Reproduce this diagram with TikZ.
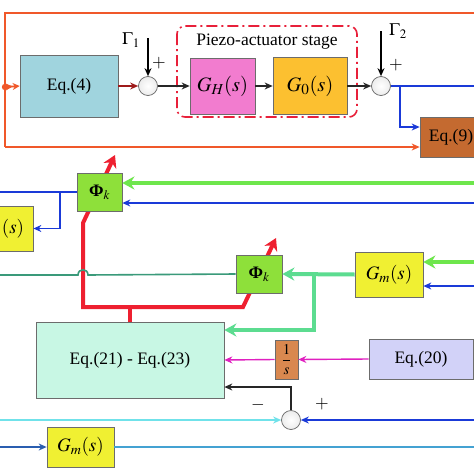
\documentclass[tikz,border=0pt]{standalone}
\usepackage{mathptmx}
\usepackage[no-math]{fontspec}
\setmainfont{Liberation Serif}
\usetikzlibrary{arrows.meta}
\pgfdeclarelayer{bg}
\pgfsetlayers{bg,main}
\definecolor{frameor}{HTML}{F0582A}
\definecolor{dkred}{HTML}{9E1A1A}
\definecolor{bl}{HTML}{1A3AD8}
\definecolor{grn}{HTML}{6EE64C}
\definecolor{mint}{HTML}{5CDC90}
\definecolor{tealc}{HTML}{3A9A7A}
\definecolor{mag}{HTML}{E020C0}
\definecolor{cyn}{HTML}{70E2EA}
\definecolor{bbl}{HTML}{2A5EB0}
\definecolor{lbl}{HTML}{44A2D2}
\definecolor{rd}{HTML}{EE2030}
\definecolor{pz}{HTML}{E8203A}
\definecolor{eqfour}{HTML}{A0D4DE}
\definecolor{ghc}{HTML}{F27CCF}
\definecolor{gzc}{HTML}{FCC030}
\definecolor{eqnine}{HTML}{C46A30}
\definecolor{phic}{HTML}{8EE03A}
\definecolor{gmc}{HTML}{F0F032}
\definecolor{eqtw}{HTML}{C8F7E4}
\definecolor{invs}{HTML}{D9884F}
\definecolor{eqtwz}{HTML}{D2D2F8}
\begin{document}
\begin{tikzpicture}[x=1pt,y=-1pt,
  font=\fontsize{17.5}{20}\selectfont,
  blk/.style={draw=gray!85!black, line width=0.7pt, inner sep=0pt},
  bigm/.style={font=\fontsize{20.5}{22}\selectfont},
  midm/.style={font=\fontsize{19}{22}\selectfont},
  sumnode/.style={circle, draw=gray!80!black, inner color=white, outer color=gray!15, line width=0.7pt, minimum size=19pt, inner sep=0pt},
  tip/.style={-{Stealth[length=8pt,width=7pt]}},
  thinl/.style={line width=1.4pt},
  fat/.style={line width=4pt},
]
\useasboundingbox (0,0) rectangle (474,474);
\clip (0,0) rectangle (474,474);

% ---------- nodes ----------
\node[blk, fill=eqfour, minimum width=98pt, minimum height=62pt] (eq4) at (69,86) {Eq.(4)};
\node[sumnode] (s1) at (148,86) {};
\node[blk, bigm, fill=ghc, minimum width=65pt, minimum height=56pt] (gh) at (222.5,86) {$G_H(s)$};
\node[blk, bigm, fill=gzc, minimum width=74pt, minimum height=57pt] (g0) at (310,86) {$G_0(s)$};
\node[sumnode] (s2) at (381,86) {};
\node[blk, fill=eqnine, minimum width=69pt, minimum height=40pt] (eq9) at (454.5,137) {};
\node (eq9t) at (451,137) {Eq.(9)};
\node (gam1) at (131,40) {$\Gamma_1$};
\node (gam2) at (398,31) {$\Gamma_2$};
\node (p1) at (159,63) {$+$};
\node (p2) at (396,65) {$+$};
\coordinate (g1) at (148,38);
\coordinate (g2) at (381,31);
\node (pzl) at (267,42) {Piezo-actuator stage};
\draw[pz, line width=1.6pt, dash pattern=on 11pt off 4pt on 2pt off 4pt, rounded corners=8pt] (177,26) rectangle (357,117);

\node[blk, fill=phic, minimum width=45pt, minimum height=38pt] (phi1) at (99.5,192) {{\bfseries Φ}$_k$};
\node[blk, fill=gmc, minimum width=66pt, minimum height=45pt] (gml) at (0,228.5) {};
\node[midm] (gmlt) at (13,228.5) {$(s)$};
\node[blk, fill=phic, minimum width=46pt, minimum height=38pt] (phi2) at (259,274) {{\bfseries Φ}$_k$};
\node[blk, midm, fill=gmc, minimum width=68pt, minimum height=45pt] (gm) at (389,274.5) {$G_m(s)$};
\node[blk, fill=eqtw, minimum width=188pt, minimum height=76pt] (eq21) at (130,360) {Eq.(21) - Eq.(23)};
\node[blk, fill=invs, minimum width=23pt, minimum height=39pt] (inv) at (286.5,359.5) {\fontsize{15}{15}\selectfont$\displaystyle\frac{1}{s}$};
\node[blk, fill=eqtwz, minimum width=104pt, minimum height=40pt] (eq20) at (421,359) {Eq.(20)};
\node[sumnode] (s3) at (291,420) {};
\node (m3) at (258,405) {$-$};
\node (p3) at (322,404) {$+$};
\node[blk, midm, fill=gmc, minimum width=67pt, minimum height=40pt] (gm3) at (80.5,447) {$G_m(s)$};

% ---------- top frame ----------
\coordinate (ft) at (5,13);
\coordinate (fr) at (474,13);
\coordinate (fb) at (5,147);
\coordinate (fd) at (5,87);
\draw[frameor, line width=1.8pt] (fr) -- (ft) -- (fb);
\draw[frameor, line width=1.8pt, tip] (fb) -- (eq9.west |- fb);
\draw[frameor, line width=1.8pt, -{Stealth[length=7pt,width=7pt]Stealth[length=7pt,width=7pt]}] (fd) -- (eq4.west);
\fill[frameor] (fd) circle (3.2pt);

% ---------- top chain ----------
\draw[dkred, line width=1.8pt, tip] (eq4.east) -- (s1.west);
\draw[black!85, line width=1.6pt, tip] (s1.east) -- (gh.west);
\draw[black!85, line width=1.6pt, tip] (gh.east) -- (g0.west);
\draw[black!85, line width=1.6pt, tip] (g0.east) -- (s2.west);
\draw[black, line width=1.4pt, tip] (g1) -- (s1.north);
\draw[black, line width=1.4pt, tip] (g2) -- (s2.north);
\coordinate (rt) at (474,86);
\coordinate (b1) at (400,86);
\draw[bl, thinl] (s2.east) -- (rt);
\draw[bl, thinl, tip] (b1) |- ([yshift=10pt]eq9.west);

% ---------- middle ----------
\coordinate (gr1) at (474,183);
\coordinate (bu1) at (474,203);
\draw[grn, fat, -{Stealth[length=12pt,width=13pt]}] (gr1) -- ([yshift=9pt]phi1.east);
\draw[bl, thinl, tip] (bu1) -- ([yshift=-11pt]phi1.east);
\coordinate (bl0) at (0,192);
\coordinate (b2) at (60,192);
\draw[bl, thinl] (bl0) -- (phi1.west);
\draw[bl, thinl, tip] (b2) |- (gml.east);

\coordinate (gr2) at (474,262);
\coordinate (bu2) at (474,286);
\draw[grn, fat, -{Stealth[length=12pt,width=13pt]}] (gr2) -- ([yshift=12.5pt]gm.east);
\draw[bl, thinl, tip] (bu2) -- ([yshift=-11.5pt]gm.east);
\coordinate (m1) at (314,274.5);
\draw[mint, fat, -{Stealth[length=12pt,width=13pt]}] (gm.west) -- (phi2.east);
\draw[mint, fat, -{Stealth[length=12pt,width=13pt]}] (m1) |- ([yshift=30pt]eq21.east);

\coordinate (t0) at (0,275);
\draw[tealc, line width=1.6pt] (t0) -- (78,275) .. controls (78,268) and (88,268) .. (88,275) -- (phi2.west);

% red paths on background
\begin{pgfonlayer}{bg}
\fill[white] (0,0) rectangle (474,474);
\coordinate (r1) at (115,155);
\coordinate (r2) at (83,223);
\coordinate (r3) at (83,307);
\coordinate (r4) at (243,307);
\coordinate (r5) at (276,238);
\coordinate (r6) at (130,307);
\draw[rd, fat, {Stealth[length=12pt,width=14pt]}-{Stealth[length=12pt,width=14pt]}] (r1) -- (r2) -- (r3) -- (r4) -- (r5);
\draw[rd, fat] (r6) -- (eq21.north);
\end{pgfonlayer}

% ---------- lower ----------
\draw[mag, thinl, tip] (eq20.west) -- (inv.east);
\draw[mag, thinl, tip] (inv.west) -- (eq21.west -| eq21.east);
\draw[black!85, line width=1.6pt, tip] (s3.north) |- ([yshift=-27pt]eq21.east);
\coordinate (c0) at (0,420);
\coordinate (c1) at (474,420);
\draw[cyn, line width=1.6pt, tip] (c0) -- (s3.west);
\draw[bl, line width=1.6pt, tip] (c1) -- (s3.east);
\coordinate (d0) at (0,447);
\coordinate (d1) at (474,447);
\draw[bbl, line width=1.6pt, tip] (d0) -- (gm3.west);
\draw[lbl, line width=1.6pt] (gm3.east) -- (d1);
\end{tikzpicture}
\end{document}
